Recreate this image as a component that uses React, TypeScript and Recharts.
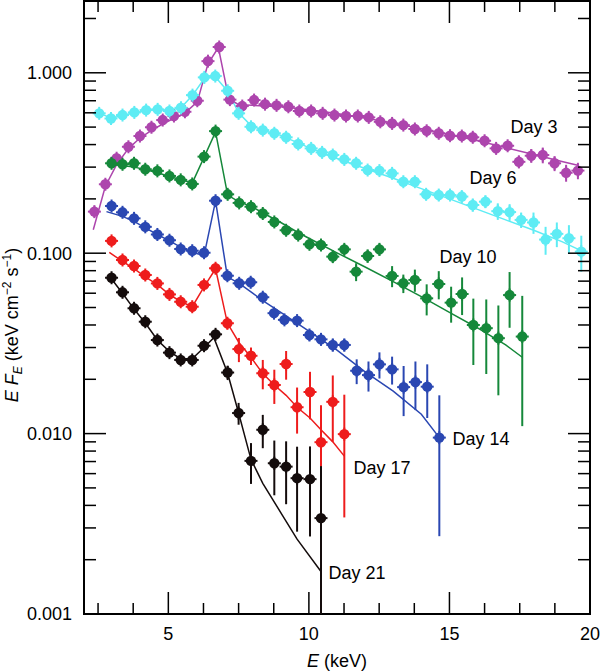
import {
  ComposedChart,
  Line,
  Scatter,
  ErrorBar,
  XAxis,
  YAxis,
  ReferenceArea,
  ReferenceDot,
} from 'recharts';

document.body.style.margin = '0';

const FONT = '"Liberation Sans", Arial, Helvetica, sans-serif';
const WIDTH = 600;
const HEIGHT = 672;
const MARGIN = { top: 1, right: 10, bottom: 18, left: 10 };
const PLOT_TOP = MARGIN.top;
const PLOT_RIGHT = WIDTH - MARGIN.right;

// axis ticks
const xTicks = [2.5, 3.75, 5, 6.25, 7.5, 8.75, 10, 11.25, 12.5, 13.75, 15, 16.25, 17.5, 18.75, 20];
const xMajor = [5, 10, 15, 20];
const yTicks = [
  0.001, 0.002, 0.003, 0.004, 0.005, 0.006, 0.007, 0.008, 0.009,
  0.01, 0.02, 0.03, 0.04, 0.05, 0.06, 0.07, 0.08, 0.09,
  0.1, 0.2, 0.3, 0.4, 0.5, 0.6, 0.7, 0.8, 0.9,
  1, 2,
];
const yMajor = [0.001, 0.01, 0.1, 1];

// Day 3
const day3Energy = [
  2.37, 2.76, 3.16, 3.58, 3.99, 4.40, 4.80, 5.20, 5.59, 6.03,
  6.41, 6.81, 7.19, 7.63, 8.05, 8.44, 8.85, 9.27, 9.66, 10.08,
  10.49, 10.91, 11.32, 11.74, 12.13, 12.54, 12.96, 13.36, 13.77, 14.19,
  14.62, 15.02, 15.44, 15.83, 16.25, 16.66, 17.07, 17.47, 17.91, 18.32,
  18.74, 19.15, 19.57,
];
const day3Flux = [
  0.170, 0.241, 0.336, 0.389, 0.446, 0.499, 0.547, 0.576, 0.608, 0.700,
  1.16, 1.39, 0.71, 0.654, 0.706, 0.670, 0.660, 0.648, 0.614, 0.614,
  0.596, 0.583, 0.576, 0.576, 0.566, 0.535, 0.524, 0.513, 0.488, 0.477,
  0.462, 0.448, 0.446, 0.439, 0.420, 0.381, 0.394, 0.321, 0.347, 0.350,
  0.315, 0.279, 0.287,
];
const day3Err = [
  0.012, 0.012, 0.012, 0.012, 0.012, 0.012, 0.012, 0.012, 0.012, 0.015,
  0.03, 0.04, 0.02, 0.015, 0.015, 0.015, 0.015, 0.015, 0.015, 0.015,
  0.015, 0.015, 0.015, 0.015, 0.015, 0.015, 0.015, 0.015, 0.015, 0.015,
  0.015, 0.015, 0.018, 0.02, 0.02, 0.022, 0.025, 0.025, 0.03, 0.035,
  0.03, 0.03, 0.03,
];
const day3ModelEnergy = [2.33, 2.76, 3.16, 3.58, 3.99, 4.4, 4.8, 5.2, 5.6, 6.03, 6.41, 6.78, 7.15, 7.5, 8, 9, 10, 11, 12, 13, 14, 15, 16, 17, 18, 19, 19.6];
const day3ModelFlux = [0.135, 0.235, 0.31, 0.38, 0.435, 0.48, 0.52, 0.56, 0.6, 0.69, 1.12, 1.38, 0.72, 0.665, 0.66, 0.648, 0.623, 0.595, 0.562, 0.526, 0.49, 0.455, 0.42, 0.385, 0.352, 0.322, 0.306];

// Day 6
const day6Energy = [
  2.54, 2.96, 3.37, 3.79, 4.21, 4.62, 5.04, 5.45, 5.86, 6.28,
  6.67, 7.11, 7.50, 7.94, 8.36, 8.77, 9.19, 9.62, 10.08, 10.47,
  10.85, 11.26, 11.68, 12.09, 12.51, 12.96, 13.36, 13.77, 14.17, 14.62,
  15.02, 15.44, 15.83, 16.28, 16.72, 17.14, 17.55, 17.99, 18.42, 18.82,
  19.25, 19.69,
];
const day6Flux = [
  0.596, 0.558, 0.583, 0.603, 0.621, 0.627, 0.614, 0.640, 0.752, 0.943,
  0.959, 0.795, 0.596, 0.502, 0.481, 0.462, 0.439, 0.403, 0.381, 0.362,
  0.350, 0.331, 0.315, 0.289, 0.287, 0.277, 0.249, 0.249, 0.212, 0.210,
  0.210, 0.206, 0.185, 0.193, 0.171, 0.169, 0.153, 0.148, 0.119, 0.128,
  0.121, 0.102,
];
const day6Err = [
  0.012, 0.012, 0.012, 0.012, 0.012, 0.012, 0.012, 0.012, 0.012, 0.015,
  0.02, 0.02, 0.012, 0.012, 0.012, 0.012, 0.012, 0.012, 0.012, 0.012,
  0.012, 0.012, 0.012, 0.012, 0.012, 0.012, 0.012, 0.012, 0.015, 0.015,
  0.015, 0.015, 0.015, 0.015, 0.018, 0.018, 0.015, 0.02, 0.021, 0.02,
  0.022, 0.023,
];
const day6ModelEnergy = [2.54, 2.96, 3.37, 3.79, 4.21, 4.62, 5.04, 5.45, 5.86, 6.28, 6.67, 7.11, 7.5, 7.94, 8.36, 9, 10, 11, 12, 13, 14, 15, 16, 17, 18, 19, 19.7];
const day6ModelFlux = [0.6, 0.56, 0.58, 0.6, 0.615, 0.625, 0.62, 0.64, 0.75, 0.93, 0.95, 0.79, 0.6, 0.51, 0.48, 0.45, 0.385, 0.335, 0.295, 0.26, 0.228, 0.2, 0.175, 0.153, 0.134, 0.116, 0.103];

// Day 10
const day10Energy = [
  2.98, 3.37, 3.78, 4.18, 4.61, 5.04, 5.44, 5.85, 6.27, 6.68,
  7.11, 7.52, 7.94, 8.36, 8.77, 9.19, 9.62, 10.02, 10.43, 10.85,
  11.26, 11.68, 12.09, 12.51, 12.96, 13.36, 13.77, 14.19, 14.62, 15.06,
  15.45, 15.85, 16.31, 16.74, 17.14, 17.59,
];
const day10Flux = [
  0.315, 0.311, 0.315, 0.292, 0.286, 0.268, 0.255, 0.242, 0.343, 0.475,
  0.212, 0.190, 0.181, 0.166, 0.149, 0.134, 0.126, 0.112, 0.111, 0.0957,
  0.105, 0.079, 0.0965, 0.105, 0.0748, 0.0681, 0.0711, 0.0562, 0.0675, 0.0532,
  0.0594, 0.040, 0.0384, 0.0338, 0.0586, 0.0345,
];
const day10Err = [
  0.008, 0.008, 0.008, 0.008, 0.008, 0.008, 0.008, 0.008, 0.01, 0.015,
  0.006, 0.006, 0.006, 0.006, 0.006, 0.006, 0.006, 0.006, 0.007, 0.007,
  0.007, 0.009, 0.008, 0.008, 0.01, 0.008, 0.01, 0.011, 0.012, 0.012,
  0.014, 0.016, 0.017, 0.0175, 0.02, 0.0235,
];
const day10ModelEnergy = [2.98, 3.4, 3.8, 4.2, 4.6, 5.0, 5.44, 5.85, 6.27, 6.68, 7.11, 7.5, 8, 8.4, 9, 9.66, 10, 11, 12, 13, 14, 15, 16, 17, 17.59];
const day10ModelFlux = [0.31, 0.305, 0.3, 0.29, 0.28, 0.267, 0.256, 0.245, 0.34, 0.47, 0.21, 0.193, 0.18, 0.166, 0.148, 0.129, 0.121, 0.1005, 0.0838, 0.0695, 0.0575, 0.047, 0.0385, 0.031, 0.0265];

// Day 14
const day14Energy = [
  2.98, 3.37, 3.78, 4.18, 4.61, 5.04, 5.44, 5.85, 6.27, 6.68,
  7.10, 7.52, 7.93, 8.36, 8.76, 9.13, 9.58, 10.02, 10.43, 10.85,
  11.26, 11.70, 12.12, 12.51, 12.96, 13.37, 13.79, 14.21, 14.64,
];
const day14Flux = [
  0.1826, 0.1685, 0.156, 0.140, 0.127, 0.118, 0.1055, 0.1032, 0.1006, 0.1954,
  0.0750, 0.0681, 0.069, 0.057, 0.0465, 0.0427, 0.0423, 0.0352, 0.0333, 0.031,
  0.031, 0.0223, 0.0211, 0.0242, 0.0227, 0.0181, 0.0193, 0.0182, 0.0095,
];
const day14Err = [
  0.004, 0.004, 0.004, 0.004, 0.004, 0.004, 0.004, 0.004, 0.004, 0.006,
  0.003, 0.003, 0.003, 0.003, 0.003, 0.0025, 0.0025, 0.0025, 0.0025, 0.0025,
  0.0025, 0.0035, 0.004, 0.004, 0.004, 0.0056, 0.0058, 0.006, 0.0068,
];
const day14ModelEnergy = [2.8, 3.37, 3.78, 4.18, 4.61, 5.04, 5.44, 5.85, 6.27, 6.68, 7.1, 7.52, 8, 8.4, 9, 10, 11, 12, 13, 14, 14.64];
const day14ModelFlux = [0.17, 0.16, 0.15, 0.138, 0.127, 0.117, 0.108, 0.101, 0.097, 0.195, 0.074, 0.068, 0.06, 0.054, 0.047, 0.037, 0.029, 0.022, 0.0172, 0.0128, 0.0095];

// Day 17
const day17Energy = [
  2.98, 3.37, 3.78, 4.18, 4.61, 5.04, 5.44, 5.85, 6.27, 6.68,
  7.10, 7.51, 7.94, 8.36, 8.77, 9.19, 9.58, 10.04, 10.43, 10.85,
  11.26,
];
const day17Flux = [
  0.117, 0.0917, 0.0849, 0.0757, 0.068, 0.0591, 0.0538, 0.0505, 0.0667, 0.0825,
  0.0409, 0.0294, 0.027, 0.0216, 0.0186, 0.0243, 0.0140, 0.0170, 0.00896, 0.0150,
  0.00993,
];
const day17Err = [
  0.003, 0.003, 0.003, 0.003, 0.003, 0.003, 0.003, 0.003, 0.003, 0.004,
  0.003, 0.0045, 0.003, 0.004, 0.004, 0.0044, 0.004, 0.005, 0.0054, 0.006,
  0.0065,
];
const day17ModelEnergy = [2.9, 3.37, 3.78, 4.18, 4.61, 5.04, 5.44, 5.85, 6.27, 6.68, 7.1, 7.51, 7.94, 8.36, 8.77, 9.19, 9.58, 10.04, 10.43, 10.85, 11.26];
const day17ModelFlux = [0.101, 0.09, 0.082, 0.074, 0.067, 0.059, 0.054, 0.0505, 0.065, 0.082, 0.041, 0.032, 0.0265, 0.0215, 0.0186, 0.0163, 0.014, 0.0122, 0.0105, 0.009, 0.0075];

// Day 21
const day21Energy = [
  2.98, 3.37, 3.78, 4.18, 4.61, 5.04, 5.44, 5.85, 6.27, 6.68,
  7.11, 7.50, 7.94, 8.36, 8.77, 9.19, 9.58, 10.04, 10.43,
];
const day21Flux = [
  0.0731, 0.0607, 0.0495, 0.0417, 0.0330, 0.0281, 0.0256, 0.0256, 0.0307, 0.0355,
  0.0218, 0.0130, 0.00706, 0.0105, 0.00685, 0.00656, 0.00566, 0.00559, 0.0034,
];
const day21Err = [
  0.002, 0.002, 0.002, 0.0015, 0.0015, 0.0015, 0.0015, 0.0015, 0.0015, 0.002,
  0.002, 0.0018, 0.0018, 0.0022, 0.0023, 0.0025, 0.0028, 0.0029, 0.0032,
];
const day21ModelEnergy = [2.98, 3.37, 3.78, 4.18, 4.61, 5.04, 5.44, 5.85, 6.27, 6.62, 7.11, 7.5, 7.94, 8.36, 9.07, 9.58, 10.43];
const day21ModelFlux = [0.072, 0.06, 0.049, 0.041, 0.033, 0.0285, 0.026, 0.026, 0.03, 0.034, 0.0216, 0.013, 0.0072, 0.0053, 0.0035, 0.0026, 0.00172];

const seriesNames = ['Day 3', 'Day 6', 'Day 10', 'Day 14', 'Day 17', 'Day 21'];
const seriesColors = ['#ad45ad', '#5eecf4', '#15883a', '#2a47b2', '#ee1c1c', '#140c0c'];
const labelEnergy = [17.14, 15.68, 14.61, 15.07, 11.55, 10.66];
const labelFlux = [0.5, 0.264, 0.0953, 0.00934, 0.00646, 0.00169];

const Y_MIN = 0.001;
const Y_MAX = 2.5;

const raw = [
  [day3Energy, day3Flux, day3Err, day3ModelEnergy, day3ModelFlux],
  [day6Energy, day6Flux, day6Err, day6ModelEnergy, day6ModelFlux],
  [day10Energy, day10Flux, day10Err, day10ModelEnergy, day10ModelFlux],
  [day14Energy, day14Flux, day14Err, day14ModelEnergy, day14ModelFlux],
  [day17Energy, day17Flux, day17Err, day17ModelEnergy, day17ModelFlux],
  [day21Energy, day21Flux, day21Err, day21ModelEnergy, day21ModelFlux],
];

const series = raw.map(([e, f, err, me, mf], i) => ({
  name: seriesNames[i],
  color: seriesColors[i],
  points: e.map((x, j) => ({
    x,
    y: f[j],
    err: [Math.min(err[j], f[j] - Y_MIN), err[j]],
  })),
  model: me.map((x, j) => ({ x, y: mf[j] })),
}));

const makeMarker = (color: string) => (props: any) => {
  const { cx, cy } = props;
  if (cx == null || cy == null || isNaN(cx) || isNaN(cy)) return <g />;
  return (
    <g>
      <line x1={cx - 6.5} x2={cx + 6.5} y1={cy} y2={cy} stroke={color} strokeWidth={2} />
      <line x1={cx} x2={cx} y1={cy - 6.5} y2={cy + 6.5} stroke={color} strokeWidth={2} />
      <circle cx={cx} cy={cy} r={5.2} fill={color} />
    </g>
  );
};

function EnergyTick({ x, y, payload }: any) {
  const major = xMajor.includes(payload.value);
  const len = major ? 22 : 11;
  return (
    <g>
      <line x1={x} x2={x} y1={y} y2={y - len} stroke="#000" strokeWidth={1.5} />
      <line x1={x} x2={x} y1={PLOT_TOP} y2={PLOT_TOP + len} stroke="#000" strokeWidth={1.5} />
      {major && (
        <text x={x} y={y + 26} textAnchor="middle" fontSize={18} fontFamily={FONT} fill="#000">
          {payload.value}
        </text>
      )}
    </g>
  );
}

function FluxTick({ x, y, payload }: any) {
  const v = payload.value;
  const major = yMajor.some((m) => Math.abs(m - v) < 1e-9);
  const len = major ? 22 : 12;
  return (
    <g>
      <line x1={x} x2={x + len} y1={y} y2={y} stroke="#000" strokeWidth={1.5} />
      <line x1={PLOT_RIGHT} x2={PLOT_RIGHT - len} y1={y} y2={y} stroke="#000" strokeWidth={1.5} />
      {major && (
        <text x={x - 12} y={y} dy="0.36em" textAnchor="end" fontSize={18} fontFamily={FONT} fill="#000">
          {v.toFixed(3)}
        </text>
      )}
    </g>
  );
}

const renderXTitle = (props: any) => {
  const vb = props.viewBox;
  return (
    <text x={vb.x + vb.width / 2} y={vb.y + 53} textAnchor="middle" fontSize={18} fontFamily={FONT} fill="#000">
      <tspan fontStyle="italic">E</tspan>
      <tspan> (keV)</tspan>
    </text>
  );
};

const renderYTitle = () => (
  <text transform="translate(18, 325) rotate(-90)" textAnchor="middle" fontSize={18} fontFamily={FONT} fill="#000">
    <tspan fontStyle="italic">E F</tspan>
    <tspan fontStyle="italic" fontSize={12} dy={4}>E</tspan>
    <tspan dy={-4}> (keV cm</tspan>
    <tspan fontSize={12} dy={-7}>−2</tspan>
    <tspan dy={7}> s</tspan>
    <tspan fontSize={12} dy={-7}>−1</tspan>
    <tspan dy={7}>)</tspan>
  </text>
);

export default function App() {
  return (
    <div style={{ width: WIDTH, height: HEIGHT, background: '#fff' }}>
      <ComposedChart width={WIDTH} height={HEIGHT} margin={MARGIN}>
        <XAxis
          type="number"
          dataKey="x"
          domain={[2, 20]}
          allowDataOverflow
          ticks={xTicks}
          interval={0}
          tick={<EnergyTick />}
          tickLine={false}
          tickSize={0}
          tickMargin={0}
          axisLine={false}
          height={40}
          label={{ content: renderXTitle }}
        />
        <YAxis
          type="number"
          dataKey="y"
          scale="log"
          domain={[Y_MIN, Y_MAX]}
          allowDataOverflow
          ticks={yTicks}
          interval={0}
          tick={<FluxTick />}
          tickLine={false}
          tickSize={0}
          tickMargin={0}
          axisLine={false}
          width={74}
          label={{ content: renderYTitle }}
        />
        {series.map((s) => (
          <Line
            key={`model-${s.name}`}
            data={s.model}
            dataKey="y"
            type="linear"
            stroke={s.color}
            strokeWidth={1.5}
            dot={false}
            activeDot={false}
            isAnimationActive={false}
          />
        ))}
        {series.map((s) => (
          <Scatter
            key={`pts-${s.name}`}
            data={s.points}
            dataKey="y"
            fill={s.color}
            shape={makeMarker(s.color)}
            isAnimationActive={false}
          >
            <ErrorBar dataKey="err" direction="y" width={0} stroke={s.color} strokeWidth={2} />
          </Scatter>
        ))}
        <ReferenceArea
          x1={2}
          x2={20}
          y1={Y_MIN}
          y2={Y_MAX}
          fill="none"
          fillOpacity={0}
          stroke="#000"
          strokeWidth={2}
          ifOverflow="visible"
        />
        {series.map((s, i) => (
          <ReferenceDot
            key={`lbl-${s.name}`}
            x={labelEnergy[i]}
            y={labelFlux[i]}
            r={1}
            fill="none"
            stroke="none"
            ifOverflow="visible"
            label={{ value: s.name, position: 'right', offset: 0, fontSize: 18, fontFamily: FONT, fill: '#000' }}
          />
        ))}
      </ComposedChart>
    </div>
  );
}
